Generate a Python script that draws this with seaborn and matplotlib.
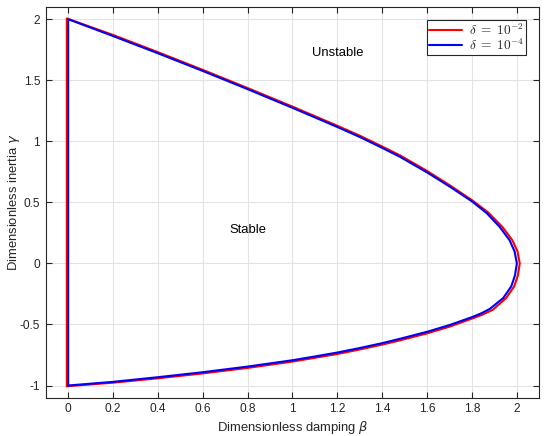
import matplotlib
matplotlib.use("Agg")
import matplotlib.pyplot as plt
import seaborn as sns
import pandas as pd
from matplotlib.font_manager import FontProperties

# ---- data ----
# delta = 1e-2 (red): closed boundary, starting at bottom-left, up the beta=0 edge,
# along the upper branch to the nose and back along the lower branch.
red_beta = [-0.006, -0.006, 0.2, 0.4, 0.6, 0.8, 1.0, 1.2, 1.3, 1.4, 1.48, 1.6, 1.7,
            1.8, 1.872, 1.935, 1.980, 2.003, 2.013, 2.005, 1.988, 1.952, 1.893, 1.845,
            1.8, 1.7, 1.6, 1.48, 1.4, 1.3, 1.2, 1.1, 1.0, 0.8, 0.6, 0.4, 0.2, -0.006]
red_gamma = [-1.006, 2.006, 1.871, 1.730, 1.585, 1.436, 1.284, 1.127, 1.046, 0.957,
             0.884, 0.757, 0.641, 0.518, 0.418, 0.300, 0.190, 0.098, 0.0, -0.096,
             -0.189, -0.284, -0.380, -0.421, -0.452, -0.518, -0.573, -0.630, -0.665,
             -0.705, -0.742, -0.773, -0.804, -0.856, -0.901, -0.941, -0.977, -1.006]

# delta = 1e-4 (blue)
blue_beta = [0.0, 0.0, 0.2, 0.4, 0.6, 0.8, 1.0, 1.2, 1.3, 1.4, 1.48, 1.6, 1.7,
             1.8, 1.865, 1.924, 1.968, 1.990, 2.0, 1.992, 1.975, 1.939, 1.88, 1.84,
             1.8, 1.7, 1.6, 1.48, 1.4, 1.3, 1.2, 1.1, 1.0, 0.8, 0.6, 0.4, 0.2, 0.0]
blue_gamma = [-1.0, 2.0, 1.862, 1.721, 1.576, 1.427, 1.274, 1.117, 1.035, 0.946,
              0.872, 0.745, 0.630, 0.508, 0.413, 0.298, 0.189, 0.098, 0.0, -0.096,
              -0.189, -0.284, -0.372, -0.410, -0.440, -0.505, -0.560, -0.617, -0.653,
              -0.693, -0.730, -0.762, -0.793, -0.845, -0.891, -0.932, -0.970, -1.0]

series_labels = [r"$\delta\;=\;10^{-2}$", r"$\delta\;=\;10^{-4}$"]
series_colors = ["#ff0000", "#0000ff"]

x_ticks = [0, 0.2, 0.4, 0.6, 0.8, 1.0, 1.2, 1.4, 1.6, 1.8, 2.0]
x_tick_labels = ["0", "0.2", "0.4", "0.6", "0.8", "1", "1.2", "1.4", "1.6", "1.8", "2"]
y_ticks = [-1, -0.5, 0, 0.5, 1, 1.5, 2]
y_tick_labels = ["-1", "-0.5", "0", "0.5", "1", "1.5", "2"]

region_labels = ["Unstable", "Stable"]
region_beta = [1.2, 0.8]
region_gamma = [1.72, 0.27]

# ---- style ----
sns.set_theme(style="whitegrid")
plt.rcParams["font.family"] = ["Liberation Sans", "DejaVu Sans"]
plt.rcParams["axes.unicode_minus"] = False
plt.rcParams["mathtext.fontset"] = "dejavusans"

axis_col = "#262626"

fig = plt.figure(figsize=(5.5, 4.36), dpi=100)
ax = fig.add_axes([0.0831, 0.0878, 0.9805 - 0.0831, 0.984 - 0.0878])

df_red = pd.DataFrame({"beta": red_beta, "gamma": red_gamma})
df_blue = pd.DataFrame({"beta": blue_beta, "gamma": blue_gamma})

sns.lineplot(data=df_red, x="beta", y="gamma", sort=False, estimator=None,
             color=series_colors[0], linewidth=1.5, label=series_labels[0], ax=ax)
sns.lineplot(data=df_blue, x="beta", y="gamma", sort=False, estimator=None,
             color=series_colors[1], linewidth=1.5, label=series_labels[1], ax=ax)
for ln in ax.lines:
    ln.set_solid_joinstyle("round")

ax.set_xlim(-0.1, 2.1)
ax.set_ylim(-1.1, 2.1)
ax.set_xticks(x_ticks)
ax.set_xticklabels(x_tick_labels)
ax.set_yticks(y_ticks)
ax.set_yticklabels(y_tick_labels)

ax.set_facecolor("white")
ax.grid(True, color="#e3e3e3", linewidth=0.8)
for s in ax.spines.values():
    s.set_visible(True)
    s.set_color(axis_col)
    s.set_linewidth(0.8)
ax.tick_params(direction="in", length=4, width=0.8, color=axis_col,
               labelcolor=axis_col, labelsize=8.6, top=True, right=True,
               bottom=True, left=True, pad=4)

ax.set_xlabel(r"Dimensionless damping $\beta$", fontsize=9.4, color=axis_col, labelpad=3)
ax.set_ylabel(r"Dimensionless inertia $\gamma$", fontsize=9.4, color=axis_col, labelpad=-1.5)

for t, bx, gy in zip(region_labels, region_beta, region_gamma):
    ax.text(bx, gy, t, ha="center", va="center", fontsize=9.4, color="black")

leg_font = FontProperties(family="DejaVu Serif", size=9.6, math_fontfamily="cm")
leg = ax.legend(loc="upper right", prop=leg_font, frameon=True, fancybox=False,
                edgecolor="#262626", framealpha=1, borderaxespad=1.0,
                handlelength=2.5, handletextpad=0.5, borderpad=0.15,
                labelspacing=0.0, markerfirst=True)
leg.get_frame().set_linewidth(0.8)

fig.savefig("out.png", dpi=100)
